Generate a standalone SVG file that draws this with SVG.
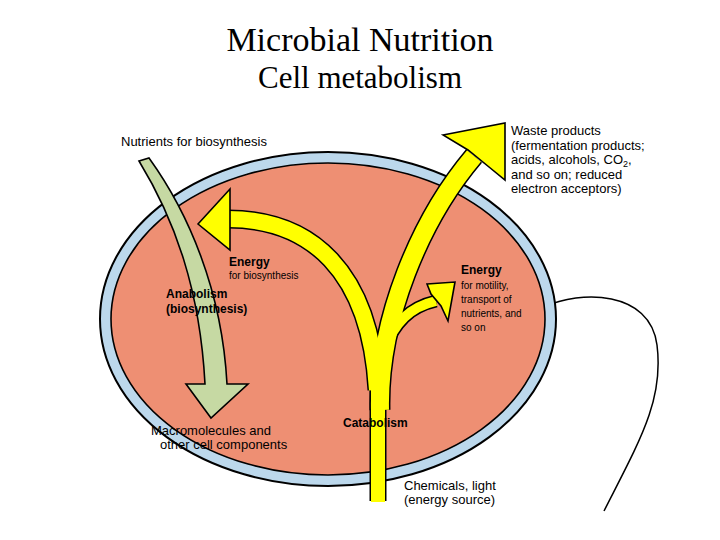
<svg xmlns="http://www.w3.org/2000/svg" width="720" height="540" viewBox="0 0 720 540">
<style>
.t{font-family:"Liberation Serif",serif;fill:#000}
.s{font-family:"Liberation Sans",Arial,sans-serif;font-size:13px;fill:#000}
.m{font-family:"Liberation Sans",Arial,sans-serif;font-size:10px;fill:#000}
.b{font-family:"Liberation Sans",Arial,sans-serif;font-size:12px;font-weight:bold;fill:#000}
.o{fill:none;stroke:#000;stroke-linecap:butt}
.f{fill:none;stroke:#ffff00;stroke-linecap:butt}
.h{fill:#ffff00;stroke:#000;stroke-width:1.6;stroke-linejoin:miter}
</style>
<rect width="720" height="540" fill="#fff"/>
<text class="t" x="360" y="51" font-size="34" text-anchor="middle">Microbial Nutrition</text>
<text class="t" x="360" y="88" font-size="31" text-anchor="middle">Cell metabolism</text>
<g id="flagellum"><path d="M544,307 C580,290 650,290 657,345 C664,400 640,440 604,511" fill="none" stroke="#000" stroke-width="1.5"/></g>
<g id="cell">
<ellipse cx="328" cy="319" rx="228" ry="167" fill="#bcd8ec" stroke="#000" stroke-width="2"/>
<ellipse cx="328" cy="319" rx="217" ry="156" fill="#ee8f73" stroke="#000" stroke-width="1.6"/>
</g>
<g id="connectors">
<path id="anabolism-arrow" d="M139,161 L149,158 C188,212 222,290 227,384 L248,384 L211,418 L186,384 L205,384 C200,290 175,220 139,161 Z" fill="#c6d9a3" stroke="#000" stroke-width="1.6"/>
<g id="catabolism-arrows">
<path class="o" stroke-width="17" d="M378,501 L378,390"/>
<path class="o" stroke-width="21" d="M380,410 C378,320 420,220 474,156"/>
<path class="o" stroke-width="19" d="M377,390 C370,270 310,219 228,219"/>
<path class="o" stroke-width="13" d="M384,350 C395,322 410,307 436,301"/>
<path class="f" stroke-width="14" d="M378,502 L378,390"/>
<path class="f" stroke-width="18" d="M380,410 C378,320 420,220 474,156"/>
<path class="f" stroke-width="16" d="M377,390 C370,270 310,219 228,219"/>
<path class="f" stroke-width="10" d="M384,350 C395,322 410,307 436,301"/>
<polygon class="h" points="443,135 505,123 505,180 489,167 468,150"/>
<polygon class="h" points="198,224 230,189 230,250"/>
<polygon class="h" points="427,284 455,282 448,321 441,306 431,294"/>
</g>
</g>
<g id="labels">
<text class="s" x="121" y="146">Nutrients for biosynthesis</text>
<text class="s" x="511" y="135">Waste products</text>
<text class="s" x="511" y="150">(fermentation products;</text>
<text class="s" x="511" y="164">acids, alcohols, CO<tspan font-size="9" dy="3">2</tspan><tspan dy="-3">,</tspan></text>
<text class="s" x="511" y="179">and so on; reduced</text>
<text class="s" x="511" y="193">electron acceptors)</text>
<text class="b" x="229" y="266">Energy</text>
<text class="m" x="229" y="279">for biosynthesis</text>
<text class="b" x="166" y="298">Anabolism</text>
<text class="b" x="166" y="313">(biosynthesis)</text>
<text class="b" x="461" y="274">Energy</text>
<text class="m" x="461" y="289">for motility,</text>
<text class="m" x="461" y="303">transport of</text>
<text class="m" x="461" y="317">nutrients, and</text>
<text class="m" x="461" y="331">so on</text>
<text class="b" x="343" y="427">Catabolism</text>
<text class="s" x="151" y="435">Macromolecules and</text>
<text class="s" x="160" y="449">other cell components</text>
<text class="s" x="404" y="490">Chemicals, light</text>
<text class="s" x="404" y="504">(energy source)</text>
</g>
</svg>
